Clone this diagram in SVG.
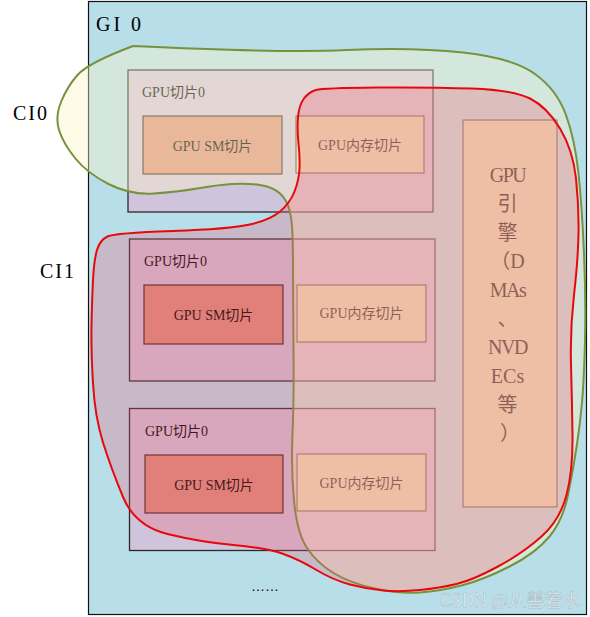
<svg xmlns="http://www.w3.org/2000/svg" width="590" height="617" viewBox="0 0 590 617">
<style>
.gi{fill:#b8dee9;stroke:#111;stroke-width:1.2}
.slice{fill:#cfc4dc;stroke:#2a2a2a;stroke-width:1.3}
.sm{fill:#da8f7c;stroke:#3a2626;stroke-width:1.2}
.mem{fill:#e2dcaf;stroke:#3a2a2a;stroke-width:1}
.t{font-family:"Liberation Serif","Noto Sans CJK SC",serif;fill:#000}
.s14{font-size:14px}
.s20{font-size:20px}
.mid{text-anchor:middle}
.ci0{fill:#fff5c8;fill-opacity:0.4;stroke:#76923c;stroke-width:2}
.ci1f{fill:#f05a6e;fill-opacity:0.28;stroke:none}
.ci1s{fill:none;stroke:#e8080c;stroke-width:2}
</style>
<defs>
<path id="ci1shape" d="M316,90 Q323,88 376.5,87.5 Q430,87 471.5,88.5 Q513,90 530,98.5 Q547,107 560,128.5 Q573,150 576,178.5 Q579,207 578.5,233.5 Q578,260 574,295 Q570,330 571,365 Q572,400 572.5,435 Q573,470 566.5,495 Q560,520 541.5,536.5 Q523,553 498,566.5 Q473,580 456.5,584 Q440,588 420,590 Q400,592 383.5,590.5 Q367,589 350,584.5 Q333,580 316.5,570 Q300,560 283.5,554 Q267,548 233.5,545 Q200,542 167.5,534 Q135,526 123,497 Q111,468 103,442.5 Q95,417 93,383.5 Q91,350 91.5,325 Q92,300 93,280 Q94,260 97,250 Q100,240 107.5,236.5 Q115,233 172.5,231 Q230,229 250,224.5 Q270,220 280,211.5 Q290,203 294.5,191.5 Q299,180 299.5,168.5 Q300,157 298.5,143.5 Q297,130 298,117.5 Q299,105 304,98.5 Q309,92 316,90 Z"/>
</defs>
<rect width="590" height="617" fill="#fff"/>
<g id="gi0">
<rect class="gi" x="88.5" y="1.5" width="498" height="613"/>
<text class="t s20" x="96" y="31" letter-spacing="3">GI 0</text>
</g>
<g id="slice1">
<rect class="slice" x="128" y="70" width="305" height="142"/>
<text class="t s14" x="142" y="97">GPU切片0</text>
<rect class="sm" x="143" y="116" width="139" height="58"/>
<text class="t s14 mid" x="212.5" y="150.5">GPU SM切片</text>
<rect class="mem" x="296" y="116" width="128" height="57"/>
<text class="t s14 mid" x="360" y="149.5">GPU内存切片</text>
</g>
<g id="slice2">
<rect class="slice" x="129.5" y="239" width="305.5" height="142"/>
<text class="t s14" x="144" y="266">GPU切片0</text>
<rect class="sm" x="144" y="285" width="139" height="59"/>
<text class="t s14 mid" x="213.5" y="320">GPU SM切片</text>
<rect class="mem" x="297" y="285" width="129" height="57"/>
<text class="t s14 mid" x="361.5" y="318">GPU内存切片</text>
</g>
<g id="slice3">
<rect class="slice" x="129.5" y="408.5" width="305.5" height="142"/>
<text class="t s14" x="145" y="436">GPU切片0</text>
<rect class="sm" x="145" y="455" width="138" height="58"/>
<text class="t s14 mid" x="214" y="490">GPU SM切片</text>
<rect class="mem" x="297" y="454" width="129" height="57"/>
<text class="t s14 mid" x="361.5" y="488">GPU内存切片</text>
</g>
<g id="engine">
<rect class="mem" x="463" y="120" width="94" height="387"/>
<text class="t s20 mid">
<tspan x="510" y="182" letter-spacing="-1.5">GPU</tspan>
<tspan x="510" y="211">引</tspan>
<tspan x="510" y="240">擎</tspan>
<tspan x="510" y="268">（D</tspan>
<tspan x="510" y="297" letter-spacing="-1.5">MAs</tspan>
<tspan x="510" y="326">、</tspan>
<tspan x="510" y="354" letter-spacing="-1.5">NVD</tspan>
<tspan x="510" y="383">ECs</tspan>
<tspan x="510" y="412">等</tspan>
<tspan x="510" y="440">）</tspan>
</text>
</g>
<g id="ci0">
<path class="ci0" d="M133,46 Q280,53 346.5,50 Q413,47 463,52.5 Q513,58 535,74 Q557,90 566,115 Q575,140 578.5,173.5 Q582,207 584,253.5 Q586,300 585,340 Q584,380 582,402.5 Q580,425 576.5,447.5 Q573,470 568,495 Q563,520 549.5,536.5 Q536,553 509.5,566.5 Q483,580 461.5,585.5 Q440,591 420,592.5 Q400,594 375,588.5 Q350,583 333.5,573 Q317,563 307,548 Q297,533 294,500.5 Q291,468 292.5,434 Q294,400 293.5,350 Q293,300 293,275 Q293,250 292.5,235 Q292,220 289.5,210 Q287,200 280,193.5 Q273,187 260,185 Q247,183 232,184 Q217,185 197,188.5 Q177,192 153.5,193.5 Q130,195 108.5,184 Q87,173 75,158 Q63,143 59,130 Q55,117 61,102 Q67,87 77.5,75 Q88,63 133,46 Z"/>
<text class="t s20" x="13" y="120" letter-spacing="2">CI0</text>
</g>
<g id="ci1">
<use href="#ci1shape" class="ci1f"/>
<use href="#ci1shape" class="ci1s"/>
<text class="t s20" x="40" y="278" letter-spacing="2">CI1</text>
</g>
<g id="connectors"/>
<g id="ellipsis">
<text x="251" y="591" font-family="Liberation Sans, sans-serif" font-size="14" fill="#000">……</text>
</g>
<g id="watermark">
<text x="440" y="607" font-family="Noto Sans CJK SC, Liberation Sans, sans-serif" font-size="18" fill="#e4edf1" stroke="#9fb3bb" stroke-width="0.4">CSDN @从善若水</text>
</g>
</svg>
